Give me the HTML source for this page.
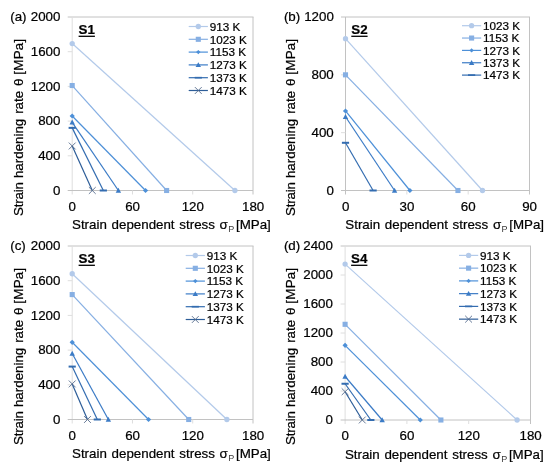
<!DOCTYPE html>
<html><head><meta charset="utf-8"><title>Strain hardening rate vs strain dependent stress</title>
<style>html,body{margin:0;padding:0;background:#fff}svg{display:block}text{font-family:"Liberation Sans", Arial, sans-serif;fill:#000;stroke:#000;stroke-width:0.22px}</style>
</head><body>
<svg width="550" height="469" viewBox="0 0 550 469">
<rect width="550" height="469" fill="#ffffff"/>
<g><path d="M67.70 17.00H253.50" stroke="#c2c2c2" stroke-width="1" fill="none"/>
<path d="M253.00 17.00V194.50" stroke="#c2c2c2" stroke-width="1" fill="none"/>
<path d="M72.20 17.00V194.50" stroke="#dedede" stroke-width="1" fill="none"/>
<path d="M67.70 190.50H253.00" stroke="#c2c2c2" stroke-width="1" fill="none"/>
<text x="60.40" y="194.60" text-anchor="end" font-size="13.33">0</text>
<path d="M67.70 155.80H72.20" stroke="#dedede" stroke-width="1"/>
<text x="60.40" y="159.90" text-anchor="end" font-size="13.33">400</text>
<path d="M67.70 121.10H72.20" stroke="#dedede" stroke-width="1"/>
<text x="60.40" y="125.20" text-anchor="end" font-size="13.33">800</text>
<path d="M67.70 86.40H72.20" stroke="#dedede" stroke-width="1"/>
<text x="60.40" y="90.50" text-anchor="end" font-size="13.33">1200</text>
<path d="M67.70 51.70H72.20" stroke="#dedede" stroke-width="1"/>
<text x="60.40" y="55.80" text-anchor="end" font-size="13.33">1600</text>
<text x="60.40" y="21.10" text-anchor="end" font-size="13.33">2000</text>
<text x="72.30" y="210.60" text-anchor="middle" font-size="13.33">0</text>
<path d="M132.47 190.50V194.50" stroke="#dedede" stroke-width="1"/>
<text x="132.57" y="210.60" text-anchor="middle" font-size="13.33">60</text>
<path d="M192.73 190.50V194.50" stroke="#dedede" stroke-width="1"/>
<text x="192.83" y="210.60" text-anchor="middle" font-size="13.33">120</text>
<text x="253.10" y="210.60" text-anchor="middle" font-size="13.33">180</text>
<text x="10.20" y="21.15" font-size="13.33">(a)</text>
<text x="78.60" y="34.00" font-size="13.33" font-weight="bold" stroke="none">S1</text>
<line x1="78.60" y1="36.30" x2="94.90" y2="36.30" stroke="#000" stroke-width="1.3"/>
<text transform="translate(22.60 216.00) rotate(-90)" font-size="13.33"><tspan letter-spacing="-0.18">Strain</tspan><tspan dx="0.5"> hardening</tspan><tspan dx="1.2"> rate</tspan><tspan dx="1.2"> θ</tspan><tspan dx="0.2"> </tspan><tspan letter-spacing="0.25">[MPa]</tspan></text>
<text x="72.00" y="229.10" font-size="13.33"><tspan word-spacing="1.05">Strain dependent stress σ</tspan><tspan font-size="9" dy="3.3" dx="0.4" fill="#3a3a3a" stroke="none">P</tspan><tspan dy="-3.3" dx="1.7">[MPa]</tspan></text>
<line x1="72.20" y1="43.55" x2="234.92" y2="190.50" stroke="#b3caea" stroke-width="1.2"/>
<circle cx="72.20" cy="43.55" r="2.65" fill="#b3caea"/>
<circle cx="234.92" cy="190.50" r="2.65" fill="#b3caea"/>
<line x1="72.20" y1="85.53" x2="166.62" y2="190.50" stroke="#86afe3" stroke-width="1.2"/>
<rect x="69.65" y="82.98" width="5.10" height="5.10" fill="#86afe3"/>
<rect x="164.07" y="187.95" width="5.10" height="5.10" fill="#86afe3"/>
<line x1="72.20" y1="115.98" x2="145.52" y2="190.50" stroke="#4d90d8" stroke-width="1.2"/>
<polygon points="72.20,113.38 74.80,115.98 72.20,118.58 69.60,115.98" fill="#4d90d8"/>
<polygon points="145.52,187.90 148.12,190.50 145.52,193.10 142.92,190.50" fill="#4d90d8"/>
<line x1="72.20" y1="122.31" x2="118.40" y2="190.50" stroke="#3b7bc6" stroke-width="1.2"/>
<polygon points="72.20,119.61 74.90,124.47 69.50,124.47" fill="#3b7bc6"/>
<polygon points="118.40,187.80 121.10,192.66 115.70,192.66" fill="#3b7bc6"/>
<line x1="72.20" y1="127.87" x2="103.34" y2="190.50" stroke="#336cb0" stroke-width="1.2"/>
<line x1="68.60" y1="127.87" x2="75.80" y2="127.87" stroke="#336cb0" stroke-width="2"/>
<line x1="99.74" y1="190.50" x2="106.94" y2="190.50" stroke="#336cb0" stroke-width="2"/>
<line x1="72.20" y1="146.00" x2="92.29" y2="190.50" stroke="#2d5d98" stroke-width="1.2"/>
<path d="M68.80 142.60L75.60 149.40M68.80 149.40L75.60 142.60" stroke="#556b8c" stroke-width="0.9" fill="none"/>
<path d="M88.89 187.10L95.69 193.90M88.89 193.90L95.69 187.10" stroke="#556b8c" stroke-width="0.9" fill="none"/>
<line x1="188.70" y1="26.50" x2="207.90" y2="26.50" stroke="#b3caea" stroke-width="1.2"/>
<circle cx="198.30" cy="26.50" r="2.65" fill="#b3caea"/>
<text x="209.80" y="30.70" font-size="11.7">913 K</text>
<line x1="188.70" y1="39.30" x2="207.90" y2="39.30" stroke="#86afe3" stroke-width="1.2"/>
<rect x="195.75" y="36.75" width="5.10" height="5.10" fill="#86afe3"/>
<text x="209.80" y="43.50" font-size="11.7">1023 K</text>
<line x1="188.70" y1="52.10" x2="207.90" y2="52.10" stroke="#4d90d8" stroke-width="1.2"/>
<polygon points="198.30,49.89 200.51,52.10 198.30,54.31 196.09,52.10" fill="#4d90d8"/>
<text x="209.80" y="56.30" font-size="11.7">1153 K</text>
<line x1="188.70" y1="64.90" x2="207.90" y2="64.90" stroke="#3b7bc6" stroke-width="1.2"/>
<polygon points="198.30,62.20 201.00,67.06 195.60,67.06" fill="#3b7bc6"/>
<text x="209.80" y="69.10" font-size="11.7">1273 K</text>
<line x1="188.70" y1="77.70" x2="207.90" y2="77.70" stroke="#336cb0" stroke-width="1.2"/>
<line x1="194.70" y1="77.70" x2="201.90" y2="77.70" stroke="#336cb0" stroke-width="1.7"/>
<text x="209.80" y="81.90" font-size="11.7">1373 K</text>
<line x1="188.70" y1="90.50" x2="207.90" y2="90.50" stroke="#2d5d98" stroke-width="1.2"/>
<path d="M194.90 87.10L201.70 93.90M194.90 93.90L201.70 87.10" stroke="#556b8c" stroke-width="0.9" fill="none"/>
<text x="209.80" y="94.70" font-size="11.7">1473 K</text></g>
<g><path d="M341.00 17.00H530.00" stroke="#c2c2c2" stroke-width="1" fill="none"/>
<path d="M529.50 17.00V194.50" stroke="#c2c2c2" stroke-width="1" fill="none"/>
<path d="M345.50 17.00V194.50" stroke="#c2c2c2" stroke-width="1" fill="none"/>
<path d="M341.00 190.50H529.50" stroke="#c2c2c2" stroke-width="1" fill="none"/>
<text x="333.80" y="194.60" text-anchor="end" font-size="13.33">0</text>
<path d="M341.00 132.67H345.50" stroke="#dedede" stroke-width="1"/>
<text x="333.80" y="136.77" text-anchor="end" font-size="13.33">400</text>
<path d="M341.00 74.83H345.50" stroke="#dedede" stroke-width="1"/>
<text x="333.80" y="78.93" text-anchor="end" font-size="13.33">800</text>
<text x="333.80" y="21.10" text-anchor="end" font-size="13.33">1200</text>
<text x="345.60" y="210.60" text-anchor="middle" font-size="13.33">0</text>
<path d="M406.83 190.50V194.50" stroke="#dedede" stroke-width="1"/>
<text x="406.93" y="210.60" text-anchor="middle" font-size="13.33">30</text>
<path d="M468.17 190.50V194.50" stroke="#dedede" stroke-width="1"/>
<text x="468.27" y="210.60" text-anchor="middle" font-size="13.33">60</text>
<text x="529.60" y="210.60" text-anchor="middle" font-size="13.33">90</text>
<text x="283.90" y="21.15" font-size="13.33">(b)</text>
<text x="351.30" y="34.00" font-size="13.33" font-weight="bold" stroke="none">S2</text>
<line x1="351.30" y1="36.30" x2="367.60" y2="36.30" stroke="#000" stroke-width="1.3"/>
<text transform="translate(295.40 216.00) rotate(-90)" font-size="13.33"><tspan letter-spacing="-0.18">Strain</tspan><tspan dx="0.5"> hardening</tspan><tspan dx="1.2"> rate</tspan><tspan dx="1.2"> θ</tspan><tspan dx="0.2"> </tspan><tspan letter-spacing="0.25">[MPa]</tspan></text>
<text x="345.30" y="229.10" font-size="13.33"><tspan word-spacing="1.05">Strain dependent stress σ</tspan><tspan font-size="9" dy="3.3" dx="0.4" fill="#3a3a3a" stroke="none">P</tspan><tspan dy="-3.3" dx="1.7">[MPa]</tspan></text>
<line x1="345.50" y1="38.69" x2="482.48" y2="190.50" stroke="#b3caea" stroke-width="1.2"/>
<circle cx="345.50" cy="38.69" r="2.65" fill="#b3caea"/>
<circle cx="482.48" cy="190.50" r="2.65" fill="#b3caea"/>
<line x1="345.50" y1="74.83" x2="457.94" y2="190.50" stroke="#86afe3" stroke-width="1.2"/>
<rect x="342.95" y="72.28" width="5.10" height="5.10" fill="#86afe3"/>
<rect x="455.39" y="187.95" width="5.10" height="5.10" fill="#86afe3"/>
<line x1="345.50" y1="110.98" x2="409.90" y2="190.50" stroke="#4d90d8" stroke-width="1.2"/>
<polygon points="345.50,108.38 348.10,110.98 345.50,113.58 342.90,110.98" fill="#4d90d8"/>
<polygon points="409.90,187.90 412.50,190.50 409.90,193.10 407.30,190.50" fill="#4d90d8"/>
<line x1="345.50" y1="116.76" x2="394.57" y2="190.50" stroke="#3b7bc6" stroke-width="1.2"/>
<polygon points="345.50,114.06 348.20,118.92 342.80,118.92" fill="#3b7bc6"/>
<polygon points="394.57,187.80 397.27,192.66 391.87,192.66" fill="#3b7bc6"/>
<line x1="345.50" y1="142.79" x2="373.10" y2="190.50" stroke="#336cb0" stroke-width="1.2"/>
<line x1="341.90" y1="142.79" x2="349.10" y2="142.79" stroke="#336cb0" stroke-width="2"/>
<line x1="369.50" y1="190.50" x2="376.70" y2="190.50" stroke="#336cb0" stroke-width="2"/>
<line x1="462.00" y1="25.70" x2="481.20" y2="25.70" stroke="#b3caea" stroke-width="1.2"/>
<circle cx="471.60" cy="25.70" r="2.65" fill="#b3caea"/>
<text x="483.10" y="29.90" font-size="11.7">1023 K</text>
<line x1="462.00" y1="38.05" x2="481.20" y2="38.05" stroke="#86afe3" stroke-width="1.2"/>
<rect x="469.05" y="35.50" width="5.10" height="5.10" fill="#86afe3"/>
<text x="483.10" y="42.25" font-size="11.7">1153 K</text>
<line x1="462.00" y1="50.40" x2="481.20" y2="50.40" stroke="#4d90d8" stroke-width="1.2"/>
<polygon points="471.60,48.19 473.81,50.40 471.60,52.61 469.39,50.40" fill="#4d90d8"/>
<text x="483.10" y="54.60" font-size="11.7">1273 K</text>
<line x1="462.00" y1="62.75" x2="481.20" y2="62.75" stroke="#3b7bc6" stroke-width="1.2"/>
<polygon points="471.60,60.05 474.30,64.91 468.90,64.91" fill="#3b7bc6"/>
<text x="483.10" y="66.95" font-size="11.7">1373 K</text>
<line x1="462.00" y1="75.10" x2="481.20" y2="75.10" stroke="#336cb0" stroke-width="1.2"/>
<line x1="468.00" y1="75.10" x2="475.20" y2="75.10" stroke="#336cb0" stroke-width="1.7"/>
<text x="483.10" y="79.30" font-size="11.7">1473 K</text></g>
<g><path d="M67.70 246.00H253.50" stroke="#c2c2c2" stroke-width="1" fill="none"/>
<path d="M253.00 246.00V423.50" stroke="#c2c2c2" stroke-width="1" fill="none"/>
<path d="M72.20 246.00V423.50" stroke="#dedede" stroke-width="1" fill="none"/>
<path d="M67.70 419.50H253.00" stroke="#c2c2c2" stroke-width="1" fill="none"/>
<text x="60.40" y="423.60" text-anchor="end" font-size="13.33">0</text>
<path d="M67.70 384.80H72.20" stroke="#dedede" stroke-width="1"/>
<text x="60.40" y="388.90" text-anchor="end" font-size="13.33">400</text>
<path d="M67.70 350.10H72.20" stroke="#dedede" stroke-width="1"/>
<text x="60.40" y="354.20" text-anchor="end" font-size="13.33">800</text>
<path d="M67.70 315.40H72.20" stroke="#dedede" stroke-width="1"/>
<text x="60.40" y="319.50" text-anchor="end" font-size="13.33">1200</text>
<path d="M67.70 280.70H72.20" stroke="#dedede" stroke-width="1"/>
<text x="60.40" y="284.80" text-anchor="end" font-size="13.33">1600</text>
<text x="60.40" y="250.10" text-anchor="end" font-size="13.33">2000</text>
<text x="72.30" y="439.60" text-anchor="middle" font-size="13.33">0</text>
<path d="M132.47 419.50V423.50" stroke="#dedede" stroke-width="1"/>
<text x="132.57" y="439.60" text-anchor="middle" font-size="13.33">60</text>
<path d="M192.73 419.50V423.50" stroke="#dedede" stroke-width="1"/>
<text x="192.83" y="439.60" text-anchor="middle" font-size="13.33">120</text>
<text x="253.10" y="439.60" text-anchor="middle" font-size="13.33">180</text>
<text x="10.20" y="250.15" font-size="13.33">(c)</text>
<text x="78.60" y="263.00" font-size="13.33" font-weight="bold" stroke="none">S3</text>
<line x1="78.60" y1="265.30" x2="94.90" y2="265.30" stroke="#000" stroke-width="1.3"/>
<text transform="translate(22.60 445.00) rotate(-90)" font-size="13.33"><tspan letter-spacing="-0.18">Strain</tspan><tspan dx="0.5"> hardening</tspan><tspan dx="1.2"> rate</tspan><tspan dx="1.2"> θ</tspan><tspan dx="0.2"> </tspan><tspan letter-spacing="0.25">[MPa]</tspan></text>
<text x="72.00" y="458.10" font-size="13.33"><tspan word-spacing="1.05">Strain dependent stress σ</tspan><tspan font-size="9" dy="3.3" dx="0.4" fill="#3a3a3a" stroke="none">P</tspan><tspan dy="-3.3" dx="1.7">[MPa]</tspan></text>
<line x1="72.20" y1="273.76" x2="226.88" y2="419.50" stroke="#b3caea" stroke-width="1.2"/>
<circle cx="72.20" cy="273.76" r="2.65" fill="#b3caea"/>
<circle cx="226.88" cy="419.50" r="2.65" fill="#b3caea"/>
<line x1="72.20" y1="294.58" x2="188.72" y2="419.50" stroke="#86afe3" stroke-width="1.2"/>
<rect x="69.65" y="292.03" width="5.10" height="5.10" fill="#86afe3"/>
<rect x="186.17" y="416.95" width="5.10" height="5.10" fill="#86afe3"/>
<line x1="72.20" y1="342.29" x2="148.54" y2="419.50" stroke="#4d90d8" stroke-width="1.2"/>
<polygon points="72.20,339.69 74.80,342.29 72.20,344.89 69.60,342.29" fill="#4d90d8"/>
<polygon points="148.54,416.90 151.14,419.50 148.54,422.10 145.94,419.50" fill="#4d90d8"/>
<line x1="72.20" y1="353.57" x2="108.36" y2="419.50" stroke="#3b7bc6" stroke-width="1.2"/>
<polygon points="72.20,350.87 74.90,355.73 69.50,355.73" fill="#3b7bc6"/>
<polygon points="108.36,416.80 111.06,421.66 105.66,421.66" fill="#3b7bc6"/>
<line x1="72.20" y1="366.58" x2="97.31" y2="419.50" stroke="#336cb0" stroke-width="1.2"/>
<line x1="68.60" y1="366.58" x2="75.80" y2="366.58" stroke="#336cb0" stroke-width="2"/>
<line x1="93.71" y1="419.50" x2="100.91" y2="419.50" stroke="#336cb0" stroke-width="2"/>
<line x1="72.20" y1="383.93" x2="87.47" y2="419.50" stroke="#2d5d98" stroke-width="1.2"/>
<path d="M68.80 380.53L75.60 387.33M68.80 387.33L75.60 380.53" stroke="#556b8c" stroke-width="0.9" fill="none"/>
<path d="M84.07 416.10L90.87 422.90M84.07 422.90L90.87 416.10" stroke="#556b8c" stroke-width="0.9" fill="none"/>
<line x1="185.70" y1="255.50" x2="204.90" y2="255.50" stroke="#b3caea" stroke-width="1.2"/>
<circle cx="195.30" cy="255.50" r="2.65" fill="#b3caea"/>
<text x="206.80" y="259.70" font-size="11.7">913 K</text>
<line x1="185.70" y1="268.30" x2="204.90" y2="268.30" stroke="#86afe3" stroke-width="1.2"/>
<rect x="192.75" y="265.75" width="5.10" height="5.10" fill="#86afe3"/>
<text x="206.80" y="272.50" font-size="11.7">1023 K</text>
<line x1="185.70" y1="281.10" x2="204.90" y2="281.10" stroke="#4d90d8" stroke-width="1.2"/>
<polygon points="195.30,278.89 197.51,281.10 195.30,283.31 193.09,281.10" fill="#4d90d8"/>
<text x="206.80" y="285.30" font-size="11.7">1153 K</text>
<line x1="185.70" y1="293.90" x2="204.90" y2="293.90" stroke="#3b7bc6" stroke-width="1.2"/>
<polygon points="195.30,291.20 198.00,296.06 192.60,296.06" fill="#3b7bc6"/>
<text x="206.80" y="298.10" font-size="11.7">1273 K</text>
<line x1="185.70" y1="306.70" x2="204.90" y2="306.70" stroke="#336cb0" stroke-width="1.2"/>
<line x1="191.70" y1="306.70" x2="198.90" y2="306.70" stroke="#336cb0" stroke-width="1.7"/>
<text x="206.80" y="310.90" font-size="11.7">1373 K</text>
<line x1="185.70" y1="319.50" x2="204.90" y2="319.50" stroke="#2d5d98" stroke-width="1.2"/>
<path d="M191.90 316.10L198.70 322.90M191.90 322.90L198.70 316.10" stroke="#556b8c" stroke-width="0.9" fill="none"/>
<text x="206.80" y="323.70" font-size="11.7">1473 K</text></g>
<g><path d="M340.60 246.00H531.00" stroke="#c2c2c2" stroke-width="1" fill="none"/>
<path d="M530.50 246.00V424.00" stroke="#c2c2c2" stroke-width="1" fill="none"/>
<path d="M345.10 246.00V424.00" stroke="#dedede" stroke-width="1" fill="none"/>
<path d="M340.60 420.00H530.50" stroke="#c2c2c2" stroke-width="1" fill="none"/>
<text x="332.90" y="424.10" text-anchor="end" font-size="13.33">0</text>
<path d="M340.60 391.00H345.10" stroke="#dedede" stroke-width="1"/>
<text x="332.90" y="395.10" text-anchor="end" font-size="13.33">400</text>
<path d="M340.60 362.00H345.10" stroke="#dedede" stroke-width="1"/>
<text x="332.90" y="366.10" text-anchor="end" font-size="13.33">800</text>
<path d="M340.60 333.00H345.10" stroke="#dedede" stroke-width="1"/>
<text x="332.90" y="337.10" text-anchor="end" font-size="13.33">1200</text>
<path d="M340.60 304.00H345.10" stroke="#dedede" stroke-width="1"/>
<text x="332.90" y="308.10" text-anchor="end" font-size="13.33">1600</text>
<path d="M340.60 275.00H345.10" stroke="#dedede" stroke-width="1"/>
<text x="332.90" y="279.10" text-anchor="end" font-size="13.33">2000</text>
<text x="332.90" y="250.10" text-anchor="end" font-size="13.33">2400</text>
<text x="345.20" y="440.10" text-anchor="middle" font-size="13.33">0</text>
<path d="M406.90 420.00V424.00" stroke="#dedede" stroke-width="1"/>
<text x="407.00" y="440.10" text-anchor="middle" font-size="13.33">60</text>
<path d="M468.70 420.00V424.00" stroke="#dedede" stroke-width="1"/>
<text x="468.80" y="440.10" text-anchor="middle" font-size="13.33">120</text>
<text x="530.60" y="440.10" text-anchor="middle" font-size="13.33">180</text>
<text x="283.90" y="250.15" font-size="13.33">(d)</text>
<text x="351.10" y="263.00" font-size="13.33" font-weight="bold" stroke="none">S4</text>
<line x1="351.10" y1="265.30" x2="367.40" y2="265.30" stroke="#000" stroke-width="1.3"/>
<text transform="translate(295.40 445.00) rotate(-90)" font-size="13.33"><tspan letter-spacing="-0.18">Strain</tspan><tspan dx="0.5"> hardening</tspan><tspan dx="1.2"> rate</tspan><tspan dx="1.2"> θ</tspan><tspan dx="0.2"> </tspan><tspan letter-spacing="0.25">[MPa]</tspan></text>
<text x="344.90" y="458.60" font-size="13.33"><tspan word-spacing="1.05">Strain dependent stress σ</tspan><tspan font-size="9" dy="3.3" dx="0.4" fill="#3a3a3a" stroke="none">P</tspan><tspan dy="-3.3" dx="1.7">[MPa]</tspan></text>
<line x1="345.10" y1="264.12" x2="517.11" y2="420.00" stroke="#b3caea" stroke-width="1.2"/>
<circle cx="345.10" cy="264.12" r="2.65" fill="#b3caea"/>
<circle cx="517.11" cy="420.00" r="2.65" fill="#b3caea"/>
<line x1="345.10" y1="324.30" x2="440.89" y2="420.00" stroke="#86afe3" stroke-width="1.2"/>
<rect x="342.55" y="321.75" width="5.10" height="5.10" fill="#86afe3"/>
<rect x="438.34" y="417.45" width="5.10" height="5.10" fill="#86afe3"/>
<line x1="345.10" y1="345.32" x2="420.29" y2="420.00" stroke="#4d90d8" stroke-width="1.2"/>
<polygon points="345.10,342.72 347.70,345.32 345.10,347.93 342.50,345.32" fill="#4d90d8"/>
<polygon points="420.29,417.40 422.89,420.00 420.29,422.60 417.69,420.00" fill="#4d90d8"/>
<line x1="345.10" y1="376.50" x2="382.18" y2="420.00" stroke="#3b7bc6" stroke-width="1.2"/>
<polygon points="345.10,373.80 347.80,378.66 342.40,378.66" fill="#3b7bc6"/>
<polygon points="382.18,417.30 384.88,422.16 379.48,422.16" fill="#3b7bc6"/>
<line x1="345.10" y1="383.75" x2="370.85" y2="420.00" stroke="#336cb0" stroke-width="1.2"/>
<line x1="341.50" y1="383.75" x2="348.70" y2="383.75" stroke="#336cb0" stroke-width="2"/>
<line x1="367.25" y1="420.00" x2="374.45" y2="420.00" stroke="#336cb0" stroke-width="2"/>
<line x1="345.10" y1="391.73" x2="362.30" y2="420.00" stroke="#2d5d98" stroke-width="1.2"/>
<path d="M341.70 388.33L348.50 395.12M341.70 395.12L348.50 388.33" stroke="#556b8c" stroke-width="0.9" fill="none"/>
<path d="M358.90 416.60L365.70 423.40M358.90 423.40L365.70 416.60" stroke="#556b8c" stroke-width="0.9" fill="none"/>
<line x1="459.00" y1="255.40" x2="478.20" y2="255.40" stroke="#b3caea" stroke-width="1.2"/>
<circle cx="468.60" cy="255.40" r="2.65" fill="#b3caea"/>
<text x="480.10" y="259.60" font-size="11.7">913 K</text>
<line x1="459.00" y1="268.15" x2="478.20" y2="268.15" stroke="#86afe3" stroke-width="1.2"/>
<rect x="466.05" y="265.60" width="5.10" height="5.10" fill="#86afe3"/>
<text x="480.10" y="272.35" font-size="11.7">1023 K</text>
<line x1="459.00" y1="280.90" x2="478.20" y2="280.90" stroke="#4d90d8" stroke-width="1.2"/>
<polygon points="468.60,278.69 470.81,280.90 468.60,283.11 466.39,280.90" fill="#4d90d8"/>
<text x="480.10" y="285.10" font-size="11.7">1153 K</text>
<line x1="459.00" y1="293.65" x2="478.20" y2="293.65" stroke="#3b7bc6" stroke-width="1.2"/>
<polygon points="468.60,290.95 471.30,295.81 465.90,295.81" fill="#3b7bc6"/>
<text x="480.10" y="297.85" font-size="11.7">1273 K</text>
<line x1="459.00" y1="306.40" x2="478.20" y2="306.40" stroke="#336cb0" stroke-width="1.2"/>
<line x1="465.00" y1="306.40" x2="472.20" y2="306.40" stroke="#336cb0" stroke-width="1.7"/>
<text x="480.10" y="310.60" font-size="11.7">1373 K</text>
<line x1="459.00" y1="319.15" x2="478.20" y2="319.15" stroke="#2d5d98" stroke-width="1.2"/>
<path d="M465.20 315.75L472.00 322.55M465.20 322.55L472.00 315.75" stroke="#556b8c" stroke-width="0.9" fill="none"/>
<text x="480.10" y="323.35" font-size="11.7">1473 K</text></g>
</svg>
</body></html>
